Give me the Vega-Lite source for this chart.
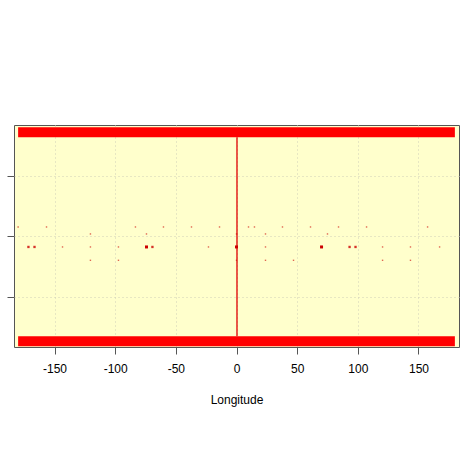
{
  "$schema": "https://vega.github.io/schema/vega-lite/v6.json",
  "autosize": {"type": "none"},
  "padding": {"left": 14, "top": 125, "right": 15, "bottom": 127},
  "width": 445,
  "height": 222,
  "background": "white",
  "config": {
    "view": {"fill": "#ffffcc", "stroke": "#555555", "strokeWidth": 1},
    "axis": {
      "labelFont": "Liberation Sans",
      "titleFont": "Liberation Sans",
      "labelFontSize": 12,
      "titleFontSize": 12,
      "titleFontWeight": "normal",
      "labelColor": "black",
      "titleColor": "black",
      "tickColor": "#555555",
      "tickSize": 7,
      "domain": false,
      "grid": true,
      "gridColor": "#cfcfb8",
      "gridDash": [1, 3],
      "gridWidth": 1
    }
  },
  "datasets": {
    "bands": [
      {"lon_min": -180, "lon_max": 180, "lat_min": 82.5, "lat_max": 90.7},
      {"lon_min": -180, "lon_max": 180, "lat_min": -91.2, "lat_max": -82.8}
    ],
    "meridian": [
      {"lon": 0.4, "lat_min": -82.8, "lat_max": 82.5}
    ],
    "points": [
      {"lon": -180, "lat": 7.9, "n": 1},
      {"lon": -156.6, "lat": 7.9, "n": 1},
      {"lon": -83.3, "lat": 7.9, "n": 1},
      {"lon": -60.2, "lat": 7.9, "n": 1},
      {"lon": -37.1, "lat": 7.9, "n": 1},
      {"lon": -14.0, "lat": 7.9, "n": 1},
      {"lon": 9.9, "lat": 7.9, "n": 1},
      {"lon": 14.8, "lat": 7.9, "n": 1},
      {"lon": 37.9, "lat": 7.9, "n": 1},
      {"lon": 61.0, "lat": 7.9, "n": 1},
      {"lon": 84.1, "lat": 7.9, "n": 1},
      {"lon": 107.2, "lat": 7.9, "n": 1},
      {"lon": 157.5, "lat": 7.9, "n": 1},
      {"lon": -120.4, "lat": 2.1, "n": 1},
      {"lon": -74.2, "lat": 2.1, "n": 1},
      {"lon": 0, "lat": 2.1, "n": 1},
      {"lon": 23.9, "lat": 2.1, "n": 1},
      {"lon": 75.0, "lat": 2.1, "n": 1},
      {"lon": -171.5, "lat": -8.7, "n": 2},
      {"lon": -166.5, "lat": -8.7, "n": 2},
      {"lon": -143.4, "lat": -8.7, "n": 1},
      {"lon": -120.4, "lat": -8.7, "n": 1},
      {"lon": -97.3, "lat": -8.7, "n": 1},
      {"lon": -74.2, "lat": -8.7, "n": 3},
      {"lon": -69.3, "lat": -8.7, "n": 2},
      {"lon": -23.1, "lat": -8.7, "n": 1},
      {"lon": 0, "lat": -8.7, "n": 3},
      {"lon": 23.9, "lat": -8.7, "n": 1},
      {"lon": 70.1, "lat": -8.7, "n": 3},
      {"lon": 93.2, "lat": -8.7, "n": 2},
      {"lon": 98.1, "lat": -8.7, "n": 2},
      {"lon": 120.4, "lat": -8.7, "n": 1},
      {"lon": 143.4, "lat": -8.7, "n": 1},
      {"lon": 167.4, "lat": -8.7, "n": 1},
      {"lon": -120.4, "lat": -19.8, "n": 1},
      {"lon": -97.3, "lat": -19.8, "n": 1},
      {"lon": 0, "lat": -19.8, "n": 1},
      {"lon": 23.9, "lat": -19.8, "n": 1},
      {"lon": 47.0, "lat": -19.8, "n": 1},
      {"lon": 120.4, "lat": -19.8, "n": 1},
      {"lon": 143.4, "lat": -19.8, "n": 1}
    ]
  },
  "encoding": {
    "x": {"type": "quantitative"},
    "y": {"type": "quantitative"}
  },
  "layer": [
    {
      "data": {"name": "bands"},
      "mark": {"type": "rect", "color": "#ff0000"},
      "encoding": {
        "x": {
          "field": "lon_min", "type": "quantitative",
          "scale": {"domain": [-183.4, 183.4], "nice": false, "zero": false},
          "axis": {
            "title": "Longitude",
            "values": [-150, -100, -50, 0, 50, 100, 150],
            "labelExpr": "'' + datum.value",
            "labelPadding": 9,
            "titlePadding": 20
          }
        },
        "x2": {"field": "lon_max"},
        "y": {
          "field": "lat_min", "type": "quantitative",
          "scale": {"domain": [-91.8, 92.6], "nice": false, "zero": false},
          "axis": {
            "title": null,
            "values": [-50, 0, 50],
            "labels": false
          }
        },
        "y2": {"field": "lat_max"}
      }
    },
    {
      "data": {"name": "meridian"},
      "mark": {"type": "rule", "color": "#e00000", "strokeWidth": 1.3},
      "encoding": {
        "x": {"field": "lon", "type": "quantitative"},
        "y": {"field": "lat_min", "type": "quantitative"},
        "y2": {"field": "lat_max"}
      }
    },
    {
      "data": {"name": "points"},
      "mark": {"type": "square", "filled": true, "color": "#cc0000"},
      "encoding": {
        "x": {"field": "lon", "type": "quantitative"},
        "y": {"field": "lat", "type": "quantitative"},
        "size": {"field": "n", "type": "quantitative", "scale": {"domain": [1, 3], "range": [2, 9]}, "legend": null},
        "opacity": {"field": "n", "type": "quantitative", "scale": {"domain": [1, 3], "range": [0.6, 1]}, "legend": null}
      }
    }
  ]
}
